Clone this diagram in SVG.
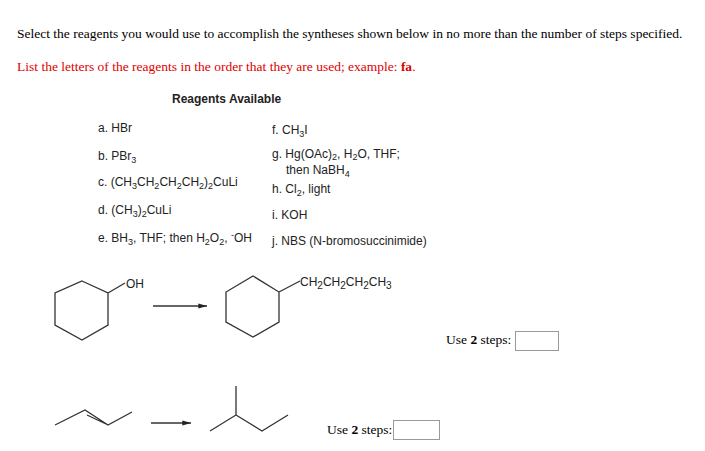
<svg xmlns="http://www.w3.org/2000/svg" width="705" height="451" viewBox="0 0 705 451">
<style>
.s{font-family:"Liberation Serif",serif;font-size:13.5px}
.a{font-family:"Liberation Sans",Arial,sans-serif;font-size:12px;fill:#222}
.b{stroke:#333;stroke-width:1.3;fill:none}
.box{fill:#fff;stroke:#999}
</style>
<defs><marker id="ah" viewBox="0 0 10 6" refX="10" refY="3" markerWidth="7" markerHeight="4" orient="auto"><path d="M0 0L10 3L0 6z" fill="#222"/></marker></defs>
<rect width="705" height="451" fill="#fff"/>
<text class="s" x="17" y="38">Select the reagents you would use to accomplish the syntheses shown below in no more than the number of steps specified.</text>
<text class="s" x="17" y="71" fill="#e00000">List the letters of the reagents in the order that they are used; example: <tspan font-weight="bold">fa</tspan>.</text>
<text class="a" x="172" y="103" font-weight="bold" font-size="12.3">Reagents Available</text>
<g id="reagents">
<text class="a" x="98" y="132">a. HBr</text>
<text class="a" x="98" y="160">b. PBr<tspan font-size="9" dy="3">3</tspan></text>
<text class="a" x="98" y="186">c. (CH<tspan font-size="9" dy="3">3</tspan><tspan dy="-3">CH</tspan><tspan font-size="9" dy="3">2</tspan><tspan dy="-3">CH</tspan><tspan font-size="9" dy="3">2</tspan><tspan dy="-3">CH</tspan><tspan font-size="9" dy="3">2</tspan><tspan dy="-3">)</tspan><tspan font-size="9" dy="3">2</tspan><tspan dy="-3">CuLi</tspan></text>
<text class="a" x="98" y="214">d. (CH<tspan font-size="9" dy="3">3</tspan><tspan dy="-3">)</tspan><tspan font-size="9" dy="3">2</tspan><tspan dy="-3">CuLi</tspan></text>
<text class="a" x="98" y="242">e. BH<tspan font-size="9" dy="3">3</tspan><tspan dy="-3">, THF; then H</tspan><tspan font-size="9" dy="3">2</tspan><tspan dy="-3">O</tspan><tspan font-size="9" dy="3">2</tspan><tspan dy="-3">, </tspan><tspan font-size="9" dy="-4">-</tspan><tspan dy="4">OH</tspan></text>
<text class="a" x="272" y="134">f. CH<tspan font-size="9" dy="3">3</tspan><tspan dy="-3">I</tspan></text>
<text class="a" x="272" y="158">g. Hg(OAc)<tspan font-size="9" dy="2">2</tspan><tspan dy="-2">, H</tspan><tspan font-size="9" dy="2">2</tspan><tspan dy="-2">O, THF;</tspan></text>
<text class="a" x="286" y="174">then NaBH<tspan font-size="9" dy="3">4</tspan></text>
<text class="a" x="272" y="193">h. Cl<tspan font-size="9" dy="3">2</tspan><tspan dy="-3">, light</tspan></text>
<text class="a" x="272" y="219">i. KOH</text>
<text class="a" x="272" y="245">j. NBS (N-bromosuccinimide)</text>
</g>
<g id="mol1">
<path class="b" d="M82 281L108 293L108 325L82 340L55 325L55 293Z M108 293L125 283"/>
<text class="a" x="126" y="288" font-size="12.5">OH</text>
</g>
<g id="mol2">
<path class="b" d="M253 276L279 292L279 322L253 337L226 322L226 292Z M279 292L300 281"/>
<text class="a" x="300" y="286" font-size="14">CH<tspan font-size="10" dy="3">2</tspan><tspan dy="-3">CH</tspan><tspan font-size="10" dy="3">2</tspan><tspan dy="-3">CH</tspan><tspan font-size="10" dy="3">2</tspan><tspan dy="-3">CH</tspan><tspan font-size="10" dy="3">3</tspan></text>
</g>
<g id="mol3"><path class="b" d="M55 425L85 410L108 425L132 412 M87 415L106 424"/></g>
<g id="mol4"><path class="b" d="M236 386L236 415L210 431 M236 415L262 431L288 415"/></g>
<g id="connectors">
<line class="b" x1="153" y1="306" x2="207" y2="306" marker-end="url(#ah)"/>
<line class="b" x1="151" y1="423" x2="191" y2="423" marker-end="url(#ah)"/>
</g>
<g id="answers">
<text class="s" x="446" y="344">Use <tspan font-weight="bold">2</tspan> steps:</text>
<rect class="box" x="515.5" y="331.5" width="43" height="19"/>
<text class="s" x="327" y="434">Use <tspan font-weight="bold">2</tspan> steps:</text>
<rect class="box" x="393.5" y="420.5" width="46" height="19"/>
</g>
</svg>
